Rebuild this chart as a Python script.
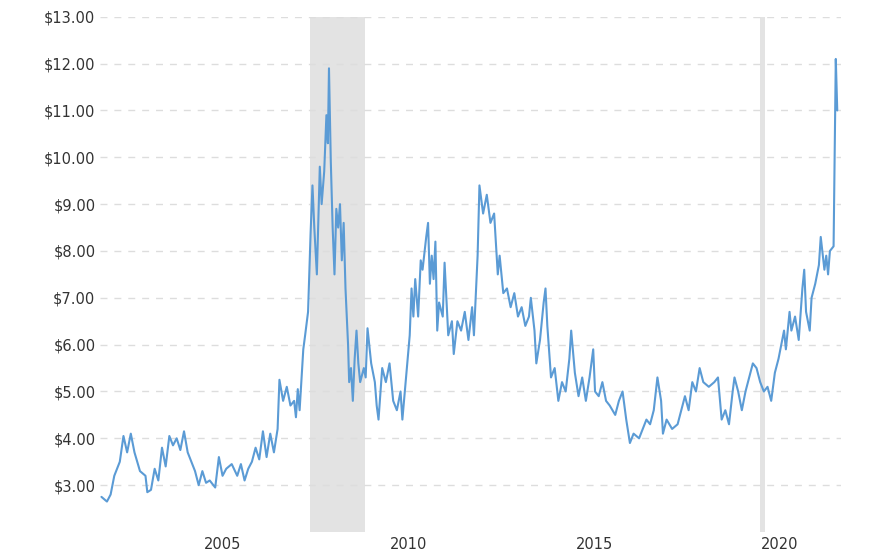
import numpy as np, pandas as pd, seaborn as sns, matplotlib
matplotlib.use("Agg")
import matplotlib.pyplot as plt

years = [2001.75,2001.9,2002.0,2002.1,2002.25,2002.35,2002.45,2002.55,2002.65,2002.8,2002.95,2003.0,2003.1,2003.2,2003.3,2003.4,2003.5,2003.6,2003.7,2003.8,2003.9,2004.0,2004.1,2004.2,2004.3,2004.4,2004.5,2004.6,2004.7,2004.85,2004.95,2005.05,2005.15,2005.3,2005.45,2005.55,2005.65,2005.75,2005.85,2005.95,2006.05,2006.15,2006.25,2006.35,2006.45,2006.55,2006.6,2006.7,2006.8,2006.9,2007.0,2007.05,2007.1,2007.15,2007.25,2007.3,2007.38,2007.45,2007.5,2007.55,2007.62,2007.7,2007.75,2007.82,2007.88,2007.92,2007.95,2008.0,2008.05,2008.1,2008.15,2008.2,2008.25,2008.3,2008.35,2008.4,2008.47,2008.5,2008.55,2008.6,2008.65,2008.7,2008.75,2008.8,2008.9,2008.95,2009.0,2009.1,2009.2,2009.25,2009.3,2009.4,2009.5,2009.6,2009.7,2009.8,2009.9,2009.95,2010.05,2010.15,2010.2,2010.25,2010.3,2010.38,2010.45,2010.5,2010.6,2010.65,2010.7,2010.75,2010.8,2010.85,2010.9,2010.95,2011.05,2011.1,2011.2,2011.3,2011.35,2011.45,2011.55,2011.65,2011.75,2011.85,2011.9,2012.0,2012.05,2012.15,2012.25,2012.35,2012.45,2012.55,2012.6,2012.7,2012.8,2012.9,2013.0,2013.1,2013.2,2013.3,2013.4,2013.45,2013.55,2013.6,2013.7,2013.8,2013.85,2013.9,2014.0,2014.1,2014.2,2014.3,2014.4,2014.5,2014.55,2014.65,2014.75,2014.85,2014.95,2015.05,2015.15,2015.2,2015.3,2015.4,2015.5,2015.6,2015.75,2015.85,2015.95,2016.05,2016.15,2016.25,2016.4,2016.5,2016.6,2016.7,2016.8,2016.9,2017.0,2017.05,2017.15,2017.3,2017.45,2017.55,2017.65,2017.75,2017.85,2017.95,2018.05,2018.15,2018.3,2018.45,2018.55,2018.65,2018.75,2018.85,2018.95,2019.0,2019.1,2019.2,2019.3,2019.4,2019.5,2019.6,2019.7,2019.8,2019.9,2020.0,2020.1,2020.2,2020.3,2020.35,2020.4,2020.5,2020.55,2020.65,2020.75,2020.85,2020.9,2020.95,2021.05,2021.1,2021.2,2021.3,2021.35,2021.45,2021.5,2021.55,2021.6,2021.7,2021.76,2021.8]
prices = [2.75,2.65,2.8,3.2,3.5,4.05,3.7,4.1,3.7,3.3,3.2,2.85,2.9,3.35,3.1,3.8,3.4,4.05,3.85,4.0,3.75,4.15,3.7,3.5,3.3,3.0,3.3,3.05,3.1,2.95,3.6,3.2,3.35,3.45,3.2,3.45,3.1,3.35,3.5,3.8,3.55,4.15,3.6,4.1,3.7,4.2,5.25,4.8,5.1,4.7,4.8,4.45,5.05,4.6,5.9,6.2,6.7,8.4,9.4,8.5,7.5,9.8,9.0,9.7,10.9,10.3,11.9,9.9,8.5,7.5,8.9,8.5,9.0,7.8,8.6,7.2,6.0,5.2,5.5,4.8,5.7,6.3,5.6,5.2,5.5,5.3,6.35,5.6,5.2,4.7,4.4,5.5,5.2,5.6,4.8,4.6,5.0,4.4,5.3,6.2,7.2,6.6,7.4,6.6,7.8,7.6,8.3,8.6,7.3,7.9,7.4,8.2,6.3,6.9,6.6,7.75,6.2,6.5,5.8,6.5,6.3,6.7,6.1,6.8,6.2,7.9,9.4,8.8,9.2,8.6,8.8,7.5,7.9,7.1,7.2,6.8,7.1,6.6,6.8,6.4,6.6,7.0,6.3,5.6,6.1,6.9,7.2,6.4,5.3,5.5,4.8,5.2,5.0,5.7,6.3,5.4,4.9,5.3,4.8,5.3,5.9,5.0,4.9,5.2,4.8,4.7,4.5,4.8,5.0,4.4,3.9,4.1,4.0,4.2,4.4,4.3,4.6,5.3,4.8,4.1,4.4,4.2,4.3,4.6,4.9,4.6,5.2,5.0,5.5,5.2,5.1,5.2,5.3,4.4,4.6,4.3,5.0,5.3,5.0,4.6,5.0,5.3,5.6,5.5,5.2,5.0,5.1,4.8,5.4,5.7,6.1,6.3,5.9,6.7,6.3,6.6,6.1,7.2,7.6,6.7,6.3,7.0,7.3,7.7,8.3,7.6,7.9,7.5,8.0,8.1,12.1,11.0]
recessions = [(2007.37, 2008.85), (2019.45, 2019.6)]
yticks = [3,4,5,6,7,8,9,10,11,12,13]

dates = [2001.72 + (y - 2001.72) * 0.9871 for y in years]

df = pd.DataFrame({"year": dates, "price": prices})
sns.set_style("white")
fig, ax = plt.subplots(figsize=(8.88, 5.6), dpi=100)
fig.subplots_adjust(left=0.113, right=0.947, top=0.97, bottom=0.05)
for a, b in recessions:
    ax.axvspan(a, b, color="#e3e3e3", zorder=0, lw=0)
sns.lineplot(data=df, x="year", y="price", ax=ax, color="#5b9bd5", lw=1.5)
ax.set_xlim(2001.72, 2021.64)
ax.set_ylim(2.0, 13.0)
ax.set_yticks(yticks)
ax.set_yticklabels([f"${v:.2f}" for v in yticks])
ax.set_xticks([2005, 2010, 2015, 2020])
ax.set_xticklabels(["2005", "2010", "2015", "2020"])
ax.yaxis.grid(True, ls=(0, (5, 5)), color="#dddddd", lw=1)
for s in ax.spines.values():
    s.set_visible(False)
ax.tick_params(length=0, labelsize=10.5, colors="#333333")
ax.set_xlabel(""); ax.set_ylabel("")
fig.savefig("out.png", dpi=100)
